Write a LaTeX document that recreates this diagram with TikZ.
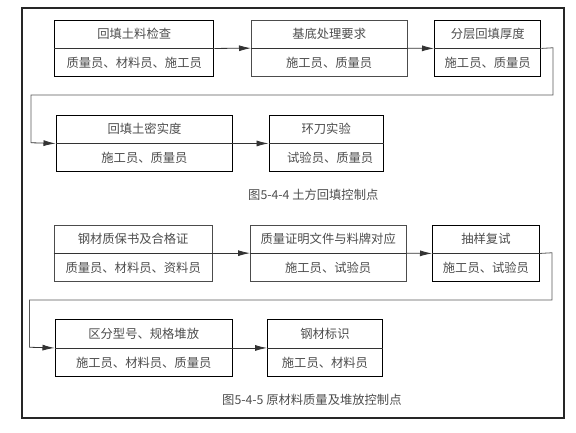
\documentclass[tikz,border=0pt]{standalone}
\usepackage{fontspec}
\setmainfont{Liberation Serif}
\newfontfamily\cjk{Noto Sans CJK SC}
\usetikzlibrary{arrows.meta,calc}
\begin{document}
\begin{tikzpicture}[x=1pt,y=-1pt,
  thickbox/.style={draw=black,line width=1.4pt,rectangle,inner sep=0pt,anchor=north west},
  thinbox/.style={draw=black!70,line width=0.8pt,rectangle,inner sep=0pt,anchor=north west},
  txt/.style={font=\cjk\fontsize{12.3pt}{14pt}\selectfont,text=black!70,inner sep=0pt},
  captxt/.style={font=\cjk\fontsize{12.3pt}{14pt}\selectfont,text=black!70,inner sep=0pt,anchor=west},
  divider/.style={draw=black!80,line width=0.8pt},
  conn/.style={draw=black!80,line width=0.8pt,-{Latex[length=12pt,width=6pt]}},
  wrap/.style={draw=black!65,line width=0.8pt}]
\useasboundingbox (0,0) rectangle (576,432);
% outer frame
\draw[line width=1.4pt,draw=black!85] (22,8) rectangle (564,418);

% Row 1
\node[thickbox,minimum width=159pt,minimum height=56.5pt] (A) at (54,19.5) {};
\node[thinbox,minimum width=155.5pt,minimum height=56.5pt] (B) at (251,19.5) {};
\node[thickbox,minimum width=106pt,minimum height=56.5pt] (C) at (434,19.5) {};
% Row 2
\node[thickbox,minimum width=176.5pt,minimum height=56.5pt] (D) at (55.5,114.5) {};
\node[thickbox,minimum width=114pt,minimum height=56.5pt] (E) at (268.5,114.5) {};
% Row 3
\node[thinbox,minimum width=158.5pt,minimum height=56.5pt] (F) at (53.5,224.5) {};
\node[thinbox,minimum width=155.5pt,minimum height=56.5pt] (G) at (250,224.5) {};
\node[thickbox,minimum width=106.5pt,minimum height=56.5pt] (H) at (432,224.5) {};
% Row 4
\node[thickbox,minimum width=177pt,minimum height=56.5pt] (I) at (54.5,319) {};
\node[thickbox,minimum width=114.5pt,minimum height=56.5pt] (J) at (267,319) {};

% dividers
\foreach \b in {A,B,C,D,E,F,G,H,I,J} {\draw[divider] (\b.west) -- (\b.east);}

% texts
\node[txt] (At) at ($(A.north)!0.5!(A.center)$) {回填土料检查};
\node[txt] (Ab) at ($(A.south)!0.5!(A.center)$) {质量员、材料员、施工员};
\node[txt] (Bt) at ($(B.north)!0.5!(B.center)$) {基底处理要求};
\node[txt] (Bb) at ($(B.south)!0.5!(B.center)$) {施工员、质量员};
\node[txt] (Ct) at ($(C.north)!0.5!(C.center)$) {分层回填厚度};
\node[txt] (Cb) at ($(C.south)!0.5!(C.center)$) {施工员、质量员};
\node[txt] (Dt) at ($(D.north)!0.5!(D.center)$) {回填土密实度};
\node[txt] (Db) at ($(D.south)!0.5!(D.center)$) {施工员、质量员};
\node[txt] (Et) at ($(E.north)!0.5!(E.center)$) {环刀实验};
\node[txt] (Eb) at ($(E.south)!0.5!(E.center)+(4,0)$) {试验员、质量员};
\node[txt] (Ft) at ($(F.north)!0.5!(F.center)$) {钢材质保书及合格证};
\node[txt] (Fb) at ($(F.south)!0.5!(F.center)$) {质量员、材料员、资料员};
\node[txt] (Gt) at ($(G.north)!0.5!(G.center)$) {质量证明文件与料牌对应};
\node[txt] (Gb) at ($(G.south)!0.5!(G.center)$) {施工员、试验员};
\node[txt] (Ht) at ($(H.north)!0.5!(H.center)$) {抽样复试};
\node[txt] (Hb) at ($(H.south)!0.5!(H.center)$) {施工员、试验员};
\node[txt] (It) at ($(I.north)!0.5!(I.center)$) {区分型号、规格堆放};
\node[txt] (Ib) at ($(I.south)!0.5!(I.center)$) {施工员、材料员、质量员};
\node[txt] (Jt) at ($(J.north)!0.5!(J.center)$) {钢材标识};
\node[txt] (Jb) at ($(J.south)!0.5!(J.center)$) {施工员、材料员};

% captions
\node[captxt] (cap1) at (248,195) {图5-4-4 土方回填控制点};
\node[captxt] (cap2) at (222,400) {图5-4-5 原材料质量及堆放控制点};

% connectors row 1-2
\draw[conn] (A.east) -- (B.west);
\draw[conn] (B.east) -- (C.west);
\coordinate (w1a) at (553,47.75);
\coordinate (w1b) at (553,95);
\coordinate (w1c) at (31,95);
\coordinate (w1d) at (31,142.75);
\draw[wrap] (C.east) -- (w1a) -- (w1b) -- (w1c) -- (w1d);
\draw[conn] (w1d) -- (D.west);
\draw[conn] (D.east) -- (E.west);

% connectors row 3-4
\draw[conn] (F.east) -- (G.west);
\draw[conn] (G.east) -- (H.west);
\coordinate (w2a) at (552,252.75);
\coordinate (w2b) at (552,300);
\coordinate (w2c) at (29.5,300);
\coordinate (w2d) at (29.5,347.25);
\draw[wrap] (H.east) -- (w2a) -- (w2b) -- (w2c) -- (w2d);
\draw[conn] (w2d) -- (I.west);
\draw[conn] (I.east) -- (J.west);
\end{tikzpicture}
\end{document}
